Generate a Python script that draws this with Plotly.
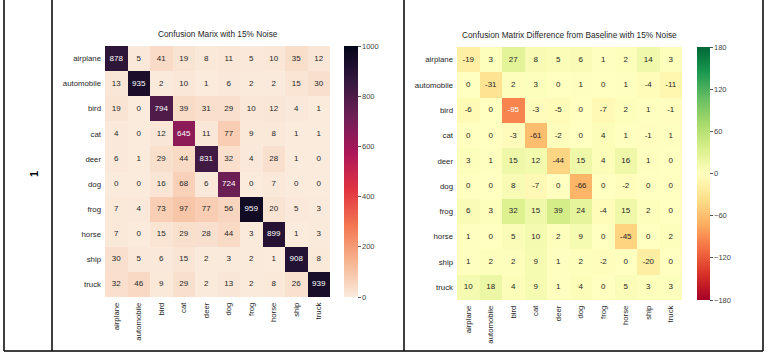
import plotly.graph_objects as go

# ---------------- data ----------------
classes = ["airplane", "automobile", "bird", "cat", "deer",
           "dog", "frog", "horse", "ship", "truck"]

noise_cm = [
    [878, 5, 41, 19, 8, 11, 5, 10, 35, 12],
    [13, 935, 2, 10, 1, 6, 2, 2, 15, 30],
    [19, 0, 794, 39, 31, 29, 10, 12, 4, 1],
    [4, 0, 12, 645, 11, 77, 9, 8, 1, 1],
    [6, 1, 29, 44, 831, 32, 4, 28, 1, 0],
    [0, 0, 16, 68, 6, 724, 0, 7, 0, 0],
    [7, 4, 73, 97, 77, 56, 959, 20, 5, 3],
    [7, 0, 15, 29, 28, 44, 3, 899, 1, 3],
    [30, 5, 6, 15, 2, 3, 2, 1, 908, 8],
    [32, 46, 9, 29, 2, 13, 2, 8, 26, 939],
]

diff_cm = [
    [-19, 3, 27, 8, 5, 6, 1, 2, 14, 3],
    [0, -31, 2, 3, 0, 1, 0, 1, -4, -11],
    [-6, 0, -95, -3, -5, 0, -7, 2, 1, -1],
    [0, 0, -3, -61, -2, 0, 4, 1, -1, 1],
    [3, 1, 15, 12, -44, 15, 4, 16, 1, 0],
    [0, 0, 8, -7, 0, -66, 0, -2, 0, 0],
    [6, 3, 32, 15, 39, 24, -4, 15, 2, 0],
    [1, 0, 5, 10, 2, 9, 0, -45, 0, 2],
    [1, 2, 2, 9, 1, 2, -2, 0, -20, 0],
    [10, 18, 4, 9, 1, 4, 0, 5, 3, 3],
]

title_left = "Confusion Marix with 15% Noise"
title_right = "Confusion Matrix Difference from Baseline with 15% Noise"
panel_label = "1"
cm_ticks = [0, 200, 400, 600, 800, 1000]
diff_ticks = [-180, -120, -60, 0, 60, 120, 180]
cm_range = (0, 1000)
diff_range = (-180, 180)

# ---------------- styles ----------------
W, H = 768, 354
FONT = "Liberation Sans, Arial, sans-serif"
DARK = "#262626"


def px(x):
    return x / W


def py(y):
    return 1 - y / H


rocket_r = [
    [0.0, "#faebdd"], [0.143, "#f6b48f"], [0.286, "#f37651"],
    [0.429, "#e13342"], [0.571, "#ad1759"], [0.714, "#701f57"],
    [0.857, "#35193e"], [1.0, "#03051a"],
]
rdylgn = [
    [0.0, "#a50026"], [0.1, "#d73027"], [0.2, "#f46d43"], [0.3, "#fdae61"],
    [0.4, "#fee08b"], [0.5, "#ffffbf"], [0.6, "#d9ef8b"], [0.7, "#a6d96a"],
    [0.8, "#66bd63"], [0.9, "#1a9850"], [1.0, "#006837"],
]


def hex2rgb(h):
    h = h.lstrip("#")
    return [int(h[i:i + 2], 16) / 255 for i in (0, 2, 4)]


def scale_color(scale, t):
    t = min(max(t, 0), 1)
    for (a, ca), (b, cb) in zip(scale[:-1], scale[1:]):
        if a <= t <= b:
            f = 0 if b == a else (t - a) / (b - a)
            c1, c2 = hex2rgb(ca), hex2rgb(cb)
            return [c1[i] + (c2[i] - c1[i]) * f for i in range(3)]
    return hex2rgb(scale[-1][1])


def lum(rgb):
    lin = [c / 12.92 if c <= 0.03928 else ((c + 0.055) / 1.055) ** 2.4 for c in rgb]
    return 0.2126 * lin[0] + 0.7152 * lin[1] + 0.0722 * lin[2]


def text_trace(mat, scale, zr, xa, ya):
    xs, ys, ts, cs = [], [], [], []
    for i, row in enumerate(mat):
        for j, v in enumerate(row):
            xs.append(classes[j])
            ys.append(classes[i])
            ts.append(str(v))
            t = (v - zr[0]) / (zr[1] - zr[0])
            cs.append(DARK if lum(scale_color(scale, t)) > 0.408 else "white")
    return go.Scatter(x=xs, y=ys, text=ts, mode="text",
                      textfont=dict(family=FONT, size=8, color=cs),
                      xaxis=xa, yaxis=ya, hoverinfo="skip", showlegend=False)


fig = go.Figure()

fig.add_trace(go.Heatmap(
    z=noise_cm, x=classes, y=classes, colorscale=rocket_r,
    zmin=cm_range[0], zmax=cm_range[1], xaxis="x", yaxis="y",
    colorbar=dict(x=px(344), xanchor="left", thickness=14, xpad=0, ypad=0,
                  len=(297 - 46) / H, lenmode="fraction",
                  y=py((46 + 297) / 2), yanchor="middle",
                  outlinewidth=0, tickvals=cm_ticks, ticks="outside",
                  ticklen=3, tickwidth=0.8, tickcolor="#555",
                  tickfont=dict(family=FONT, size=7.5, color="#444")),
))
fig.add_trace(text_trace(noise_cm, rocket_r, cm_range, "x", "y"))

fig.add_trace(go.Heatmap(
    z=diff_cm, x=classes, y=classes, colorscale=rdylgn,
    zmin=diff_range[0], zmax=diff_range[1], xaxis="x2", yaxis="y2",
    colorbar=dict(x=px(697), xanchor="left", thickness=13, xpad=0, ypad=0,
                  len=(300 - 47) / H, lenmode="fraction",
                  y=py((47 + 300) / 2), yanchor="middle",
                  outlinewidth=0, tickvals=diff_ticks, ticks="outside",
                  ticklen=3, tickwidth=0.8, tickcolor="#555",
                  tickfont=dict(family=FONT, size=7.5, color="#444")),
))
fig.add_trace(text_trace(diff_cm, rdylgn, diff_range, "x2", "y2"))

axis_common = dict(showgrid=False, zeroline=False, showline=False, ticks="",
                   tickfont=dict(family=FONT, size=7.8, color=DARK))

fig.update_layout(
    width=W, height=H, margin=dict(l=0, r=0, t=0, b=0),
    paper_bgcolor="white", plot_bgcolor="white",
    xaxis=dict(domain=[px(105), px(330)], anchor="y", tickangle=-90,
               range=[-0.5, 9.5], ticklabelstandoff=3, **axis_common),
    yaxis=dict(domain=[py(297), py(46)], anchor="x", range=[9.5, -0.5],
               ticklabelstandoff=3, **axis_common),
    xaxis2=dict(domain=[px(457), px(682)], anchor="y2", tickangle=-90,
                range=[-0.5, 9.5], ticklabelstandoff=3, **axis_common),
    yaxis2=dict(domain=[py(300), py(47)], anchor="x2", range=[9.5, -0.5],
                ticklabelstandoff=3, **axis_common),
    showlegend=False,
)

fig.add_annotation(text=title_left, x=px(217.5), y=py(41), xref="paper", yref="paper",
                   showarrow=False, xanchor="center", yanchor="bottom",
                   font=dict(family=FONT, size=8.3, color=DARK))
fig.add_annotation(text=title_right, x=px(569.5), y=py(42), xref="paper", yref="paper",
                   showarrow=False, xanchor="center", yanchor="bottom",
                   font=dict(family=FONT, size=8.3, color=DARK))
fig.add_annotation(text="<b>" + panel_label + "</b>", x=px(34), y=py(174),
                   xref="paper", yref="paper", showarrow=False, textangle=-90,
                   xanchor="center", yanchor="middle",
                   font=dict(family=FONT, size=11, color="black"))

# table borders
for xv in (4, 52, 404, 763):
    fig.add_shape(type="line", xref="paper", yref="paper",
                  x0=px(xv), x1=px(xv), y0=py(0), y1=py(351),
                  line=dict(color="black", width=1.5))
fig.add_shape(type="line", xref="paper", yref="paper",
              x0=px(4), x1=px(763), y0=py(351), y1=py(351),
              line=dict(color="black", width=1.5))

fig.write_html("out.html")
